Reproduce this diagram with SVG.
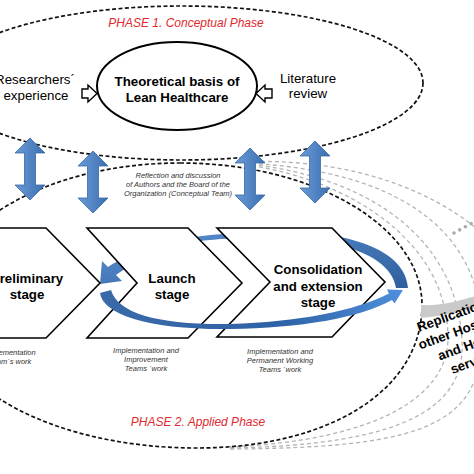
<svg xmlns="http://www.w3.org/2000/svg" xmlns:xlink="http://www.w3.org/1999/xlink" width="474" height="474" viewBox="0 0 474 474">
<style>
.bd{fill:none;stroke:#111;stroke-width:1.7;stroke-dasharray:4 2.4}
.gd{fill:none;stroke:#b4b4b4;stroke-width:1.3;stroke-dasharray:4 3}
.chev{fill:#fff;stroke:#000;stroke-width:1.6;stroke-linejoin:miter}
.t{font-family:"Liberation Sans",Arial,sans-serif;text-anchor:middle}
.big{font-size:13.3px;fill:#000}
.bold{font-weight:bold}
.red{font-size:12px;font-style:italic;fill:#e0282e}
.sm{font-size:7.5px;font-style:italic;fill:#333}
.hollow{fill:#fff;stroke:#000;stroke-width:1.4;stroke-linejoin:miter}
</style>
<defs>
<linearGradient id="gb" x1="0" y1="0" x2="1" y2="0">
<stop offset="0" stop-color="#6a9bd8"/>
<stop offset="1" stop-color="#3c6fb0"/>
</linearGradient>
<linearGradient id="gu" x1="0" y1="0" x2="1" y2="1">
<stop offset="0" stop-color="#5a8fd0"/>
<stop offset="1" stop-color="#2f5f9e"/>
</linearGradient>
<linearGradient id="gl" x1="0" y1="0" x2="1" y2="0">
<stop offset="0" stop-color="#3a6aa8"/>
<stop offset="0.6" stop-color="#2f62a6"/>
<stop offset="1" stop-color="#4f8fdc"/>
</linearGradient>
<path id="dbl" d="M0,0 L15,15 L5.5,15 L5.5,47 L15,47 L0,62 L-15,47 L-5.5,47 L-5.5,15 L-15,15 Z" fill="url(#gb)" stroke="#3a6aa6" stroke-width="0.8"/>
</defs>
<rect width="474" height="474" fill="#fff"/>

<g id="connectors">
<!-- gray replication dashed curves -->
<path class="gd" d="M240 162 C320 158 420 175 490 240"/>
<path class="gd" d="M245 163 C350 168 470 200 482 320 C486 420 440 448 230 449"/>
<path class="gd" d="M245 164 C340 172 455 220 462 340 C466 405 410 445 230 448"/>
<path class="gd" d="M245 165 C330 175 445 230 448 335 C450 395 380 440 230 447"/>
<path d="M454 233 L474 222" fill="none" stroke="#aaa" stroke-width="3.6" stroke-linecap="round" stroke-dasharray="0 6.5"/>
</g>

<g id="phase1">
<ellipse class="bd" cx="182" cy="83" rx="241" ry="77"/>
<text class="t red" x="186" y="27">PHASE 1. Conceptual Phase</text>
</g>

<g id="phase2">
<path class="bd" d="M180 163 C313.7 163 422 226.6 422 305 C422 390 330 447 200 448 C60 449 -62 390 -62 305 C-62 226.6 46.3 163 180 163 Z"/>
<text class="t red" x="198" y="426">PHASE 2. Applied Phase</text>
</g>

<g id="cycle-upper">
<path d="M408 288 C406 262 380 245 340 237 C300 230 240 231 195 237 C155 243 128 254 108 267 L102 261 L100 284 L122 281 L116 275 C135 262 160 247 200 241 C240 236 300 236 338 245 C372 253 393 268 396 288 Z" fill="url(#gu)"/>
</g>

<g id="stage1">
<path class="chev" d="M-55 228 L46 228 L100 283 L46 338 L-55 338 L-5 283 Z"/>
<text class="t big bold" x="27" y="283">Preliminary</text>
<text class="t big bold" x="27" y="299">stage</text>
<text class="t sm" x="10" y="355">Implementation</text>
<text class="t sm" x="10" y="364">Team´s work</text>
</g>

<g id="stage2">
<path class="chev" d="M87 228 L188 228 L242 283 L188 338 L87 338 L137 283 Z"/>
<text class="t big bold" x="172" y="283">Launch</text>
<text class="t big bold" x="172" y="299">stage</text>
<text class="t sm" x="146" y="353">Implementation and</text>
<text class="t sm" x="146" y="362">Improvement</text>
<text class="t sm" x="146" y="371">Teams ´work</text>
</g>

<g id="stage3">
<path class="chev" d="M217 228 L332 228 L385 282 L332 337 L217 337 L270 282 Z"/>
<text class="t big bold" x="318" y="274">Consolidation</text>
<text class="t big bold" x="318" y="290.5">and extension</text>
<text class="t big bold" x="318" y="307">stage</text>
<text class="t sm" x="280" y="354">Implementation and</text>
<text class="t sm" x="280" y="363">Permanent Working</text>
<text class="t sm" x="280" y="372">Teams ´work</text>
</g>

<g id="cycle-lower">
<path d="M100 293 C103 315 150 330 230 329 C300 328 360 318 392 300 L394.5 303.6 L403 290 L387 289.6 L389 293.5 C355 311 298 322 230 324 C160 325 118 314 111 290 Z" fill="url(#gl)"/>
</g>

<g id="reflection">
<text class="t sm" x="178" y="178">Reflection and discussion</text>
<text class="t sm" x="178" y="187">of Authors and the Board of the</text>
<text class="t sm" x="178" y="196">Organization (Conceptual Team)</text>
</g>

<g id="double-arrows">
<use xlink:href="#dbl" href="#dbl" transform="translate(30,138)"/>
<use xlink:href="#dbl" href="#dbl" transform="translate(93,151)"/>
<use xlink:href="#dbl" href="#dbl" transform="translate(250,148)"/>
<use xlink:href="#dbl" href="#dbl" transform="translate(315,141)"/>
</g>

<g id="theory">
<ellipse cx="177" cy="86" rx="80" ry="44" fill="#fff" stroke="#000" stroke-width="2"/>
<text class="t big bold" x="177" y="86">Theoretical basis of</text>
<text class="t big bold" x="177" y="102">Lean Healthcare</text>
</g>

<g id="researchers">
<text class="t big" x="35" y="84">Researchers´</text>
<text class="t big" x="36" y="100">experience</text>
<path class="hollow" d="M82 89 L88 89 L88 85 L97 93.5 L88 102 L88 98 L82 98 Z"/>
</g>

<g id="literature">
<text class="t big" x="308" y="83">Literature</text>
<text class="t big" x="308" y="98">review</text>
<path class="hollow" d="M272 89 L265 89 L265 85 L256 93.5 L265 102 L265 98 L272 98 Z"/>
</g>

<g id="replication">
<path d="M421 305 C440 306 455 302 476 296 L476 308 C455 313 440 316 421 318 Z" fill="#c9c9c9"/>
<g transform="translate(460,317) rotate(-20)">
<text class="t big bold" x="0" y="0">Replication in</text>
<text class="t big bold" x="0" y="17">other Hospitals</text>
<text class="t big bold" x="0" y="34">and Health</text>
<text class="t big bold" x="0" y="51">services</text>
</g>
</g>
</svg>
